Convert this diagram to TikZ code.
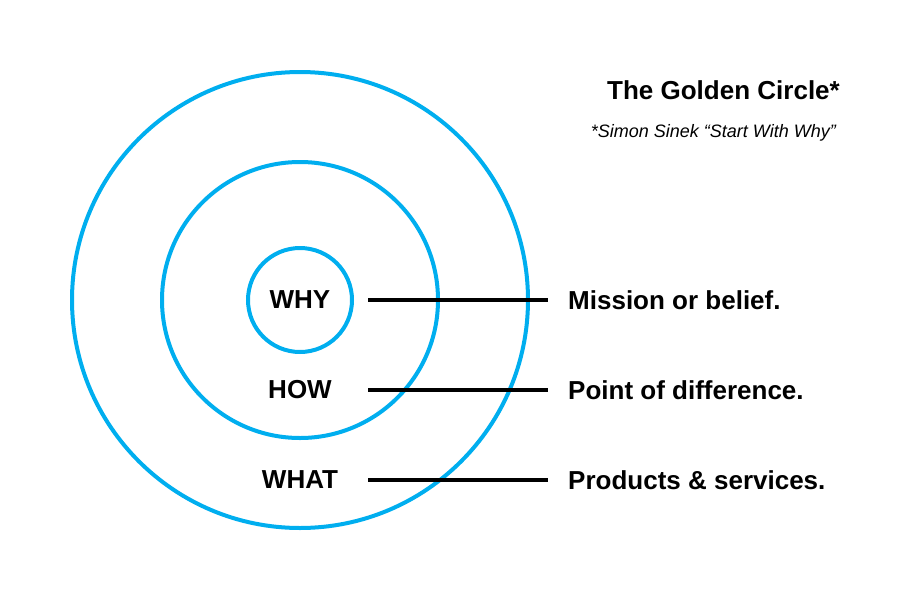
\documentclass[tikz,border=0pt]{standalone}
\usepackage{fontspec}
\setmainfont{Liberation Sans}
\definecolor{ring}{HTML}{00AEEF}
\begin{document}
\begin{tikzpicture}[x=1pt,y=-1pt,
  ringst/.style={draw=ring,line width=4pt},
  lbl/.style={font=\fontsize{26}{30}\selectfont\bfseries,anchor=center,inner sep=0},
  desc/.style={font=\fontsize{26}{30}\selectfont\bfseries,anchor=west,inner sep=0},
  conn/.style={line width=3.5pt}]
\useasboundingbox (0,0) rectangle (900,600);
\draw[ringst] (300,300) circle (228);
\draw[ringst] (300,300) circle (138);
\draw[ringst] (300,300) circle (52);
\node[lbl] (why) at (300,300) {WHY};
\node[lbl] (how) at (300,390) {HOW};
\node[lbl] (what) at (300,480) {WHAT};
\coordinate (s1) at (368,300); \coordinate (e1) at (548,300);
\coordinate (s2) at (368,390); \coordinate (e2) at (548,390);
\coordinate (s3) at (368,480); \coordinate (e3) at (548,480);
\draw[conn] (s1) -- (e1); \draw[conn] (s2) -- (e2); \draw[conn] (s3) -- (e3);
\node[desc] (d1) at (568,300) {Mission or belief.};
\node[desc] (d2) at (568,390) {Point of difference.};
\node[desc] (d3) at (568,480) {Products \& services.};
\node[anchor=east,inner sep=0,font=\fontsize{26}{30}\selectfont\bfseries] (title) at (840,90) {The Golden Circle*};
\node[anchor=east,inner sep=0,font=\fontsize{18}{22}\selectfont\itshape] (sub) at (836,133) {*Simon Sinek “Start With Why”};
\end{tikzpicture}
\end{document}
